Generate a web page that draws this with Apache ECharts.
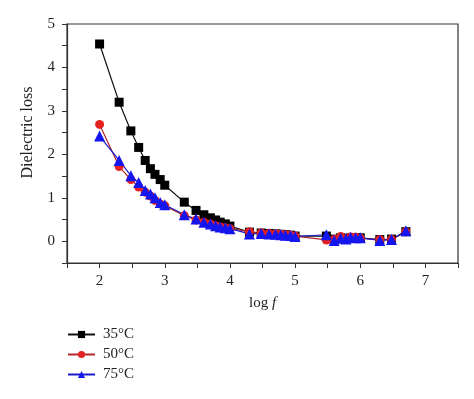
<!DOCTYPE html>
<html>
<head>
<meta charset="utf-8">
<script src="https://cdn.jsdelivr.net/npm/echarts@6/dist/echarts.min.js"></script>
<style>
  html, body { margin: 0; padding: 0; background: #fff; }
  #chart { width: 474px; height: 399px; }
</style>
</head>
<body>
<div id="chart"></div>
<script>
// log f values (shared by all three temperatures)
const logF = [2.0, 2.3, 2.48, 2.6, 2.7, 2.78, 2.85, 2.93, 3.0, 3.3, 3.48, 3.6, 3.7, 3.78, 3.85, 3.93, 4.0,
  4.3, 4.48, 4.6, 4.7, 4.78, 4.85, 4.93, 5.0, 5.48, 5.6, 5.7, 5.78, 5.85, 5.93, 6.0, 6.3, 6.48, 6.7];

const loss35 = [4.54, 3.20, 2.54, 2.16, 1.86, 1.67, 1.54, 1.42, 1.29, 0.90, 0.71, 0.61, 0.54, 0.49, 0.44, 0.40, 0.35,
  0.21, 0.19, 0.18, 0.17, 0.16, 0.15, 0.14, 0.12, 0.12, 0.05, 0.08, 0.06, 0.08, 0.08, 0.08, 0.04, 0.05, 0.22];
const loss50 = [2.69, 1.72, 1.42, 1.25, 1.13, 1.04, 0.94, 0.86, 0.82, 0.59, 0.49, 0.44, 0.40, 0.36, 0.33, 0.31, 0.29,
  0.22, 0.19, 0.18, 0.17, 0.16, 0.15, 0.14, 0.12, 0.03, 0.04, 0.11, 0.04, 0.10, 0.09, 0.07, 0.04, 0.04, 0.22];
const loss75 = [2.42, 1.86, 1.51, 1.35, 1.17, 1.09, 1.00, 0.89, 0.84, 0.61, 0.51, 0.44, 0.40, 0.36, 0.33, 0.31, 0.29,
  0.17, 0.18, 0.17, 0.16, 0.15, 0.14, 0.13, 0.11, 0.15, 0.02, 0.07, 0.05, 0.09, 0.08, 0.08, 0.02, 0.04, 0.24];

const seriesNames = ['35°C', '50°C', '75°C'];

const serif = 'Liberation Serif';

function pairs(ys) {
  return logF.map((x, i) => [x, ys[i]]);
}

const chart = echarts.init(document.getElementById('chart'));

const option = {
  backgroundColor: '#fff',
  animation: false,
  grid: {
    left: 67, right: 16, top: 24, bottom: 136,
    show: true, borderColor: '#333', borderWidth: 1.2
  },
  legend: {
    orient: 'vertical',
    left: 62,
    top: 322,
    itemWidth: 27,
    itemHeight: 9,
    itemGap: 5,
    textStyle: { fontFamily: serif, fontSize: 15, color: '#222', padding: [0, 0, 0, 3] },
    data: seriesNames
  },
  xAxis: {
    type: 'value',
    min: 1.5, max: 7.5, interval: 0.5,
    name: '{n|log }{f|f}',
    nameLocation: 'middle',
    nameGap: 33,
    nameTextStyle: {
      rich: {
        n: { fontFamily: serif, fontSize: 15, color: '#222' },
        f: { fontFamily: serif, fontSize: 15, fontStyle: 'italic', color: '#222' }
      }
    },
    splitLine: { show: false },
    axisLine: { onZero: false, lineStyle: { color: '#333', width: 1.2 } },
    axisTick: { inside: false, length: 5, lineStyle: { color: '#333' } },
    axisLabel: {
      margin: 11,
      fontFamily: serif, fontSize: 15, color: '#222',
      formatter: v => (Number.isInteger(v) ? String(v) : '')
    }
  },
  yAxis: {
    type: 'value',
    min: -0.5, max: 5, interval: 0.5,
    name: 'Dielectric loss',
    nameLocation: 'middle',
    nameGap: 31,
    nameTextStyle: { fontFamily: serif, fontSize: 16, color: '#222', padding: [0, 0, 0, 22] },
    splitLine: { show: false },
    axisLine: { show: true, onZero: false, lineStyle: { color: '#333', width: 1.2 } },
    axisTick: { show: true, inside: false, length: 5, lineStyle: { color: '#333' } },
    axisLabel: {
      margin: 12,
      fontFamily: serif, fontSize: 15, color: '#222',
      formatter: v => (Number.isInteger(v) ? String(v) : '')
    }
  },
  series: [
    {
      name: seriesNames[0], type: 'line', data: pairs(loss35),
      symbol: 'rect', symbolSize: 9,
      lineStyle: { color: '#111', width: 1.2 },
      itemStyle: { color: '#000' }
    },
    {
      name: seriesNames[1], type: 'line', data: pairs(loss50),
      symbol: 'circle', symbolSize: 9,
      lineStyle: { color: '#b0282a', width: 1.2 },
      itemStyle: { color: '#e52222' }
    },
    {
      name: seriesNames[2], type: 'line', data: pairs(loss75),
      symbol: 'triangle', symbolSize: 11,
      lineStyle: { color: '#1a1ad0', width: 1.2 },
      itemStyle: { color: '#1515ee' }
    }
  ]
};

chart.setOption(option);
</script>
</body>
</html>
